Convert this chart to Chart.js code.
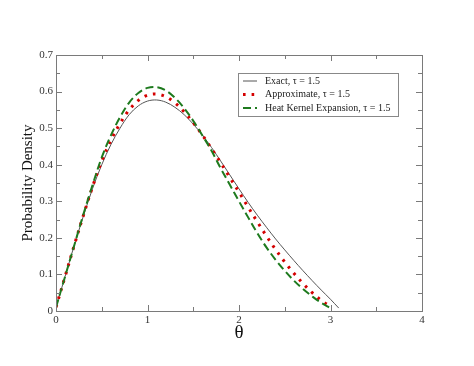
<!DOCTYPE html>
<html>
<head>
<meta charset="utf-8">
<script src="https://cdn.jsdelivr.net/npm/chart.js@4.4.1/dist/chart.umd.min.js"></script>
<style>
html,body{margin:0;padding:0;background:#fff;}
#wrap{width:474px;height:366px;position:relative;}
</style>
</head>
<body>
<div id="wrap"><canvas id="c" width="474" height="366"></canvas></div>
<script>
// ---- data ----
const thetaExact = [0,0.1,0.2,0.3,0.4,0.5,0.6,0.7,0.8,0.9,1.0,1.1,1.2,1.3,1.4,1.5,1.6,1.7,1.8,1.9,2.0,2.1,2.2,2.3,2.4,2.5,2.6,2.7,2.8,2.9,3.0,3.09];
const exactVals  = [0.01,0.095,0.18,0.26,0.335,0.40,0.455,0.50,0.537,0.561,0.574,0.577,0.571,0.557,0.537,0.511,0.481,0.447,0.41,0.372,0.334,0.297,0.262,0.229,0.197,0.167,0.138,0.11,0.083,0.057,0.032,0.008];
const thetaApprox = [0,0.1,0.2,0.3,0.4,0.5,0.6,0.7,0.8,0.9,1.0,1.1,1.2,1.3,1.4,1.5,1.6,1.7,1.8,1.9,2.0,2.1,2.2,2.3,2.4,2.5,2.6,2.7,2.8,2.9,3.0];
const approxVals  = [0.01,0.095,0.18,0.262,0.34,0.41,0.467,0.513,0.55,0.576,0.59,0.593,0.586,0.569,0.545,0.515,0.481,0.444,0.405,0.365,0.325,0.284,0.244,0.205,0.168,0.134,0.103,0.075,0.05,0.029,0.012];
const heatVals    = [0.01,0.095,0.18,0.265,0.345,0.42,0.48,0.53,0.57,0.596,0.61,0.612,0.603,0.583,0.555,0.52,0.48,0.438,0.39,0.345,0.30,0.256,0.213,0.174,0.14,0.11,0.083,0.06,0.04,0.022,0.008];
const seriesNames = ['Exact, \u03c4 = 1.5','Approximate, \u03c4 = 1.5','Heat Kernel Expansion, \u03c4 = 1.5'];
const xTickValues = [0,1,2,3,4];
const yTickValues = [0,0.1,0.2,0.3,0.4,0.5,0.6,0.7];
const xTitle = '\u03b8';
const yTitle = 'Probability Density';

const SERIF = '"Liberation Serif", "DejaVu Serif", serif';
const COL_EXACT = '#555555';
const COL_APPROX = '#d40000';
const COL_HEAT = '#1e7a1e';
const DASH_APPROX = [2.6, 6];
const DASH_HEAT = [8, 4];
const AXIS_COL = '#7a7a7a';

function pts(xs, ys){ return xs.map((x,i)=>({x:x, y:ys[i]})); }

const frame = {
  id:'frame',
  afterDraw(chart){
    const ctx = chart.ctx, a = chart.chartArea;
    const xs = chart.scales.x, ys = chart.scales.y;
    ctx.save();
    ctx.strokeStyle = AXIS_COL; ctx.lineWidth = 1;
    ctx.strokeRect(Math.round(a.left)+0.5, Math.round(a.top)+0.5, Math.round(a.right-a.left), Math.round(a.bottom-a.top));
    ctx.beginPath();
    for (let v=0; v<=4.001; v+=0.5){
      const px = Math.round(xs.getPixelForValue(v))+0.5;
      const len = (Math.abs(v-Math.round(v))<1e-6) ? 6 : 4;
      ctx.moveTo(px, a.bottom); ctx.lineTo(px, a.bottom-len);
      ctx.moveTo(px, a.top); ctx.lineTo(px, a.top+len);
    }
    for (let k=0; k<=14; k++){
      const v = k*0.05;
      const py = Math.round(ys.getPixelForValue(v))+0.5;
      const len = (k%2===0) ? 6 : 4;
      ctx.moveTo(a.left, py); ctx.lineTo(a.left+len, py);
      ctx.moveTo(a.right, py); ctx.lineTo(a.right-len, py);
    }
    ctx.stroke();

    ctx.fillStyle = '#111';
    ctx.font = '19px ' + SERIF;
    ctx.textAlign = 'center'; ctx.textBaseline = 'middle';
    ctx.fillText(xTitle, (a.left+a.right)/2, 333);
    ctx.save();
    ctx.translate(28, (a.top+a.bottom)/2);
    ctx.rotate(-Math.PI/2);
    ctx.font = '15px ' + SERIF;
    ctx.fillText(yTitle, 0, 0);
    ctx.restore();

    const bx = 238.5, by = 73.5, bw = 160, bh = 43;
    ctx.fillStyle = '#fff';
    ctx.fillRect(bx, by, bw, bh);
    ctx.strokeStyle = '#888'; ctx.lineWidth = 1;
    ctx.strokeRect(bx, by, bw, bh);
    const rows = [81, 94.5, 108];
    const styles = [
      {c:COL_EXACT, w:1, d:[]},
      {c:COL_APPROX, w:3, d:DASH_APPROX},
      {c:COL_HEAT, w:2, d:DASH_HEAT}
    ];
    ctx.font = '10px ' + SERIF;
    ctx.textAlign = 'left';
    rows.forEach((ry,i)=>{
      const s = styles[i];
      ctx.save();
      ctx.strokeStyle = s.c; ctx.lineWidth = s.w; ctx.setLineDash(s.d);
      ctx.beginPath(); ctx.moveTo(243, ry); ctx.lineTo(257, ry); ctx.stroke();
      ctx.restore();
      ctx.fillStyle = '#222';
      ctx.fillText(seriesNames[i], 265, ry);
    });
    ctx.restore();
  }
};

new Chart(document.getElementById('c'), {
  type:'line',
  data:{
    datasets:[
      {label:seriesNames[2], data:pts(thetaApprox, heatVals), borderColor:COL_HEAT, borderWidth:2, borderDash:DASH_HEAT, pointRadius:0, tension:0.35, fill:false},
      {label:seriesNames[1], data:pts(thetaApprox, approxVals), borderColor:COL_APPROX, borderWidth:3, borderDash:DASH_APPROX, pointRadius:0, tension:0.35, fill:false},
      {label:seriesNames[0], data:pts(thetaExact, exactVals), borderColor:COL_EXACT, borderWidth:1, pointRadius:0, tension:0.35, fill:false}
    ]
  },
  options:{
    responsive:false, animation:false,
    layout:{padding:{left:0, right:52, top:55, bottom:0}},
    plugins:{legend:{display:false}, tooltip:{enabled:false}},
    scales:{
      x:{
        type:'linear', min:0, max:4,
        afterFit(s){ s.height = 55; },
        afterBuildTicks(s){ s.ticks = xTickValues.map(v=>({value:v})); },
        grid:{display:false, drawTicks:false},
        border:{display:false},
        ticks:{padding:3, color:'#333', font:{family:SERIF, size:11}, maxRotation:0, callback:v=>String(v)}
      },
      y:{
        type:'linear', min:0, max:0.7,
        afterFit(s){ s.width = 56; },
        afterBuildTicks(s){ s.ticks = yTickValues.map(v=>({value:v})); },
        grid:{display:false, drawTicks:false},
        border:{display:false},
        ticks:{padding:3, color:'#333', font:{family:SERIF, size:11}, callback:v=>String(+(+v).toFixed(1))}
      }
    }
  },
  plugins:[frame]
});
</script>
</body>
</html>
